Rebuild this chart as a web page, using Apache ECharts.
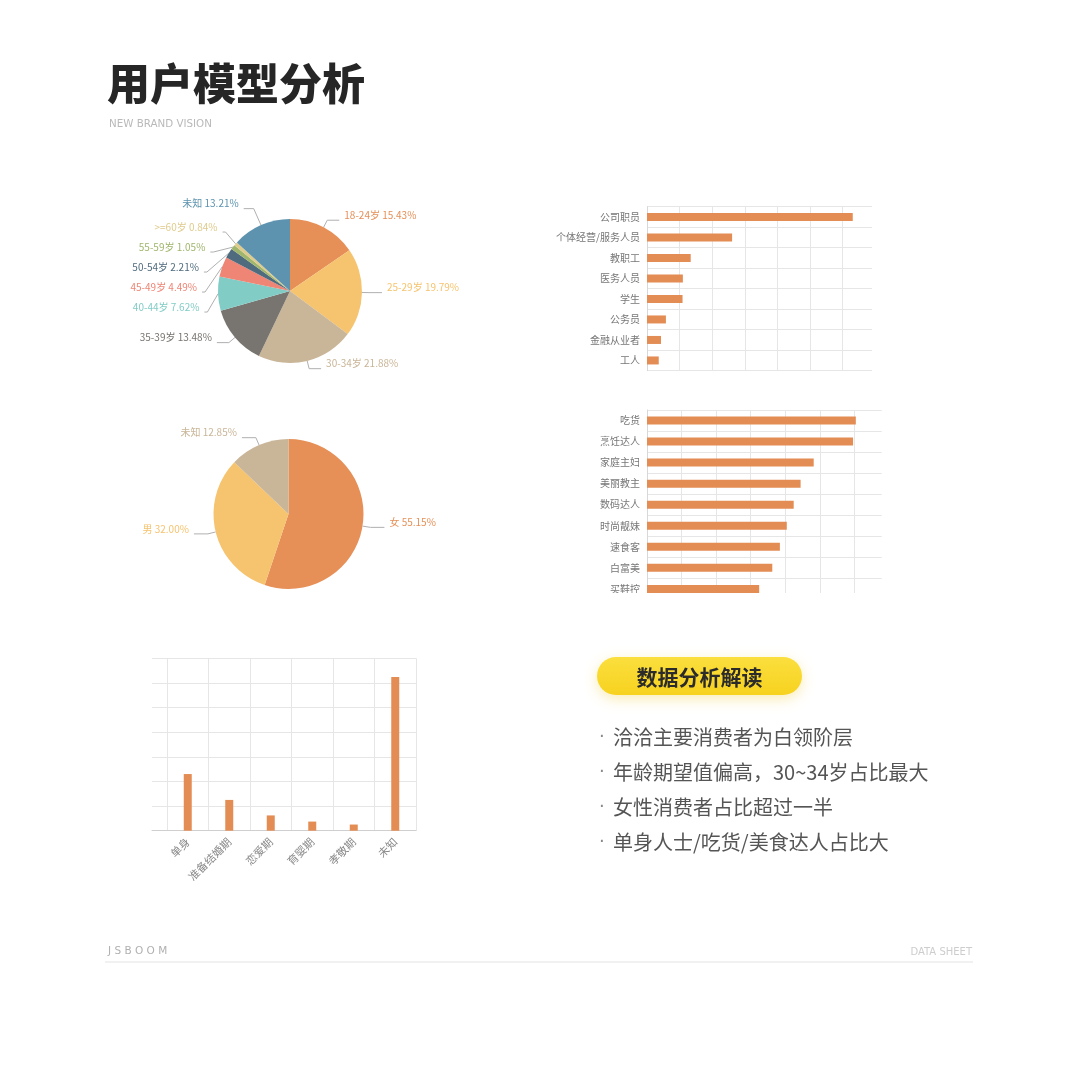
<!DOCTYPE html>
<html><head><meta charset="utf-8">
<script src="https://cdn.jsdelivr.net/npm/echarts@6/dist/echarts.min.js"></script>
<style>html,body{margin:0;padding:0;background:#fff}#c{width:1080px;height:1068px}</style>
</head><body><div id="c"></div>
<script>
// ---- data ----
const ageNames = ['18-24岁','25-29岁','30-34岁','35-39岁','40-44岁','45-49岁','50-54岁','55-59岁','>=60岁','未知'];
const ageValues = [15.43,19.79,21.88,13.48,7.62,4.49,2.21,1.05,0.84,13.21];
const ageColors = ['#e68f57','#f6c36e','#c9b597','#787470','#82ccc6','#ee8575','#4f6b7e','#9fb66c','#dfcb8c','#5d93ae'];
const genderNames = ['女','男','未知'];
const genderValues = [55.15,32.00,12.85];
const genderColors = ['#e68f57','#f6c36e','#c9b597'];
const jobNames = ['公司职员','个体经营/服务人员','教职工','医务人员','学生','公务员','金融从业者','工人'];
const jobValues = [63.1,26.1,13.4,11.0,10.9,5.8,4.3,3.6];
const tagNames = ['吃货','烹饪达人','家庭主妇','美丽教主','数码达人','时尚靓妹','速食客','白富美','买鞋控'];
const tagValues = [60.5,59.7,48.3,44.5,42.5,40.5,38.5,36.3,32.5];
const lifeNames = ['单身','准备结婚期','恋爱期','育婴期','孝敬期','未知'];
const lifeValues = [23.0,12.5,6.2,3.7,2.5,62.4];
const bullets = ['洽洽主要消费者为白领阶层','年龄期望值偏高，30~34岁占比最大','女性消费者占比超过一半','单身人士/吃货/美食达人占比大'];
const FONT = '"Noto Sans CJK SC","Noto Sans",sans-serif';
const BAR = '#e38c53';
const GRIDC = '#e6e6e6';
// label-line style: slices on the upper-left get a longer first segment
const longLineFrom = 4;

const chart = echarts.init(document.getElementById('c'), null, {renderer:'canvas'});

function pieData(names, values, colors, longFrom){
  return names.map((n,i)=>{
    const d = {name:n, value:values[i], itemStyle:{color:colors[i]}, label:{color:colors[i]}};
    if (longFrom != null && i >= longFrom) d.labelLine = {length:18, length2:(i === names.length-1 ? 10 : 3)};
    return d;
  });
}
const pieLabel = {
  show:true, position:'outside', fontSize:10, fontFamily:FONT,
  formatter:(p)=>'{t|'+p.name+' '+p.value.toFixed(2)+'%}\n{s| }',
  rich:{ t:{fontSize:10, lineHeight:10, fontFamily:FONT}, s:{fontSize:6, lineHeight:10} }
};

const option = {
  animation:false,
  backgroundColor:'#ffffff',
  grid:[
    {left:647, top:206.7, width:225, height:164},
    {left:647, top:206.7, width:195.6, height:164},
    {left:647, top:410, width:234.7, height:189.4},
    {left:647, top:410, width:207.3, height:189.4},
    {left:152, top:658.3, width:264, height:172.4},
    {left:167, top:658.3, width:249, height:172.4}
  ],
  xAxis:[
    {gridIndex:0, type:'value', min:0, max:69, axisLine:{show:false}, axisTick:{show:false}, axisLabel:{show:false}, splitLine:{show:false}},
    {gridIndex:1, type:'value', min:0, max:60, interval:10, axisLine:{show:false}, axisTick:{show:false}, axisLabel:{show:false}, splitLine:{show:true, lineStyle:{color:GRIDC}}},
    {gridIndex:2, type:'value', min:0, max:68, axisLine:{show:false}, axisTick:{show:false}, axisLabel:{show:false}, splitLine:{show:false}},
    {gridIndex:3, type:'value', min:0, max:60, interval:10, axisLine:{show:false}, axisTick:{show:false}, axisLabel:{show:false}, splitLine:{show:true, lineStyle:{color:GRIDC}}},
    {gridIndex:4, type:'value', min:0, max:1, axisLine:{show:true, lineStyle:{color:'#cfcfcf'}}, axisTick:{show:false}, axisLabel:{show:false}, splitLine:{show:false}},
    {gridIndex:5, type:'category', data:lifeNames, axisLine:{show:false}, axisTick:{show:false},
      axisLabel:{rotate:45, fontSize:11, color:'#8a8a8a', fontFamily:FONT, margin:9, interval:0},
      splitLine:{show:true, interval:0, lineStyle:{color:GRIDC}}}
  ],
  yAxis:[
    {gridIndex:0, type:'category', inverse:true, data:jobNames, axisLine:{show:true, lineStyle:{color:'#d8d8d8'}}, axisTick:{show:false},
      axisLabel:{fontSize:10, color:'#777', fontFamily:FONT, margin:7}, splitLine:{show:true, interval:0, lineStyle:{color:GRIDC}}},
    {gridIndex:1, type:'category', inverse:true, data:jobNames, show:false},
    {gridIndex:2, type:'category', inverse:true, data:tagNames, axisLine:{show:true, lineStyle:{color:'#d8d8d8'}}, axisTick:{show:false},
      axisLabel:{fontSize:10, color:'#777', fontFamily:FONT, margin:7}, splitLine:{show:true, interval:0, lineStyle:{color:GRIDC}}},
    {gridIndex:3, type:'category', inverse:true, data:tagNames, show:false},
    {gridIndex:4, type:'value', min:0, max:70, interval:10, axisLine:{show:false}, axisTick:{show:false}, axisLabel:{show:false}, splitLine:{show:true, lineStyle:{color:GRIDC}}},
    {gridIndex:5, type:'value', min:0, max:70, interval:10, show:false}
  ],
  series:[
    {type:'bar', xAxisIndex:0, yAxisIndex:0, data:jobValues, barWidth:8, itemStyle:{color:BAR}, z:3},
    {type:'bar', xAxisIndex:2, yAxisIndex:2, data:tagValues, barWidth:8, itemStyle:{color:BAR}, z:3},
    {type:'bar', xAxisIndex:5, yAxisIndex:5, data:lifeValues, barWidth:8, itemStyle:{color:BAR}, z:3},
    {type:'pie', center:[290,291], radius:72, startAngle:90, clockwise:true, minShowLabelAngle:0,
      avoidLabelOverlap:true, label:pieLabel,
      labelLine:{show:true, length:8, length2:12, lineStyle:{color:'#b0b0b0', width:1}},
      emphasis:{disabled:true}, data:pieData(ageNames, ageValues, ageColors, longLineFrom)},
    {type:'pie', center:[288.5,514], radius:75, startAngle:90, clockwise:true,
      label:pieLabel,
      labelLine:{show:true, length:8, length2:14, lineStyle:{color:'#b0b0b0', width:1}},
      emphasis:{disabled:true}, data:pieData(genderNames, genderValues, genderColors)}
  ],
  graphic:[
    {type:'text', left:107, top:62, style:{text:'用户模型分析', font:'900 43px '+FONT, fill:'#262626'}},
    {type:'text', x:109, y:124, style:{text:'NEW BRAND VISION', font:'10.3px "DejaVu Sans", sans-serif', fill:'#b9b9b9', verticalAlign:'middle'}},
    {type:'rect', shape:{x:560, y:593, width:340, height:12}, style:{fill:'#ffffff'}, z:100},
    {type:'rect', shape:{x:597, y:657, width:205, height:38, r:19},
      style:{fill:new echarts.graphic.LinearGradient(0,0,0,1,[{offset:0,color:'#fbdf3e'},{offset:1,color:'#f7d21f'}]),
        shadowBlur:14, shadowOffsetY:4, shadowColor:'rgba(240,200,40,0.35)'}},
    {type:'text', x:699.5, y:677, style:{text:'数据分析解读', font:'bold 21px '+FONT, fill:'#2b2b2b', align:'center', verticalAlign:'middle'}},
    ...bullets.map((t,i)=>({type:'group', children:[
      {type:'text', x:599, y:737+i*35, style:{text:'·', font:'18px "DejaVu Sans", sans-serif', fill:'#888', verticalAlign:'middle'}},
      {type:'text', x:613, y:737+i*35, style:{text:t, font:'20px '+FONT, fill:'#555', verticalAlign:'middle'}}
    ]})),
    {type:'text', x:108, y:951, style:{text:'J S B O O M', font:'10.5px "DejaVu Sans", sans-serif', fill:'#b0b0b0', verticalAlign:'middle'}},
    {type:'text', x:972, y:952, style:{text:'DATA SHEET', font:'10px "DejaVu Sans", sans-serif', fill:'#cdcdcd', align:'right', verticalAlign:'middle'}},
    {type:'line', shape:{x1:105, y1:962, x2:973, y2:962}, style:{stroke:'#e3e3e3', lineWidth:1}}
  ]
};
chart.setOption(option);
</script></body></html>
